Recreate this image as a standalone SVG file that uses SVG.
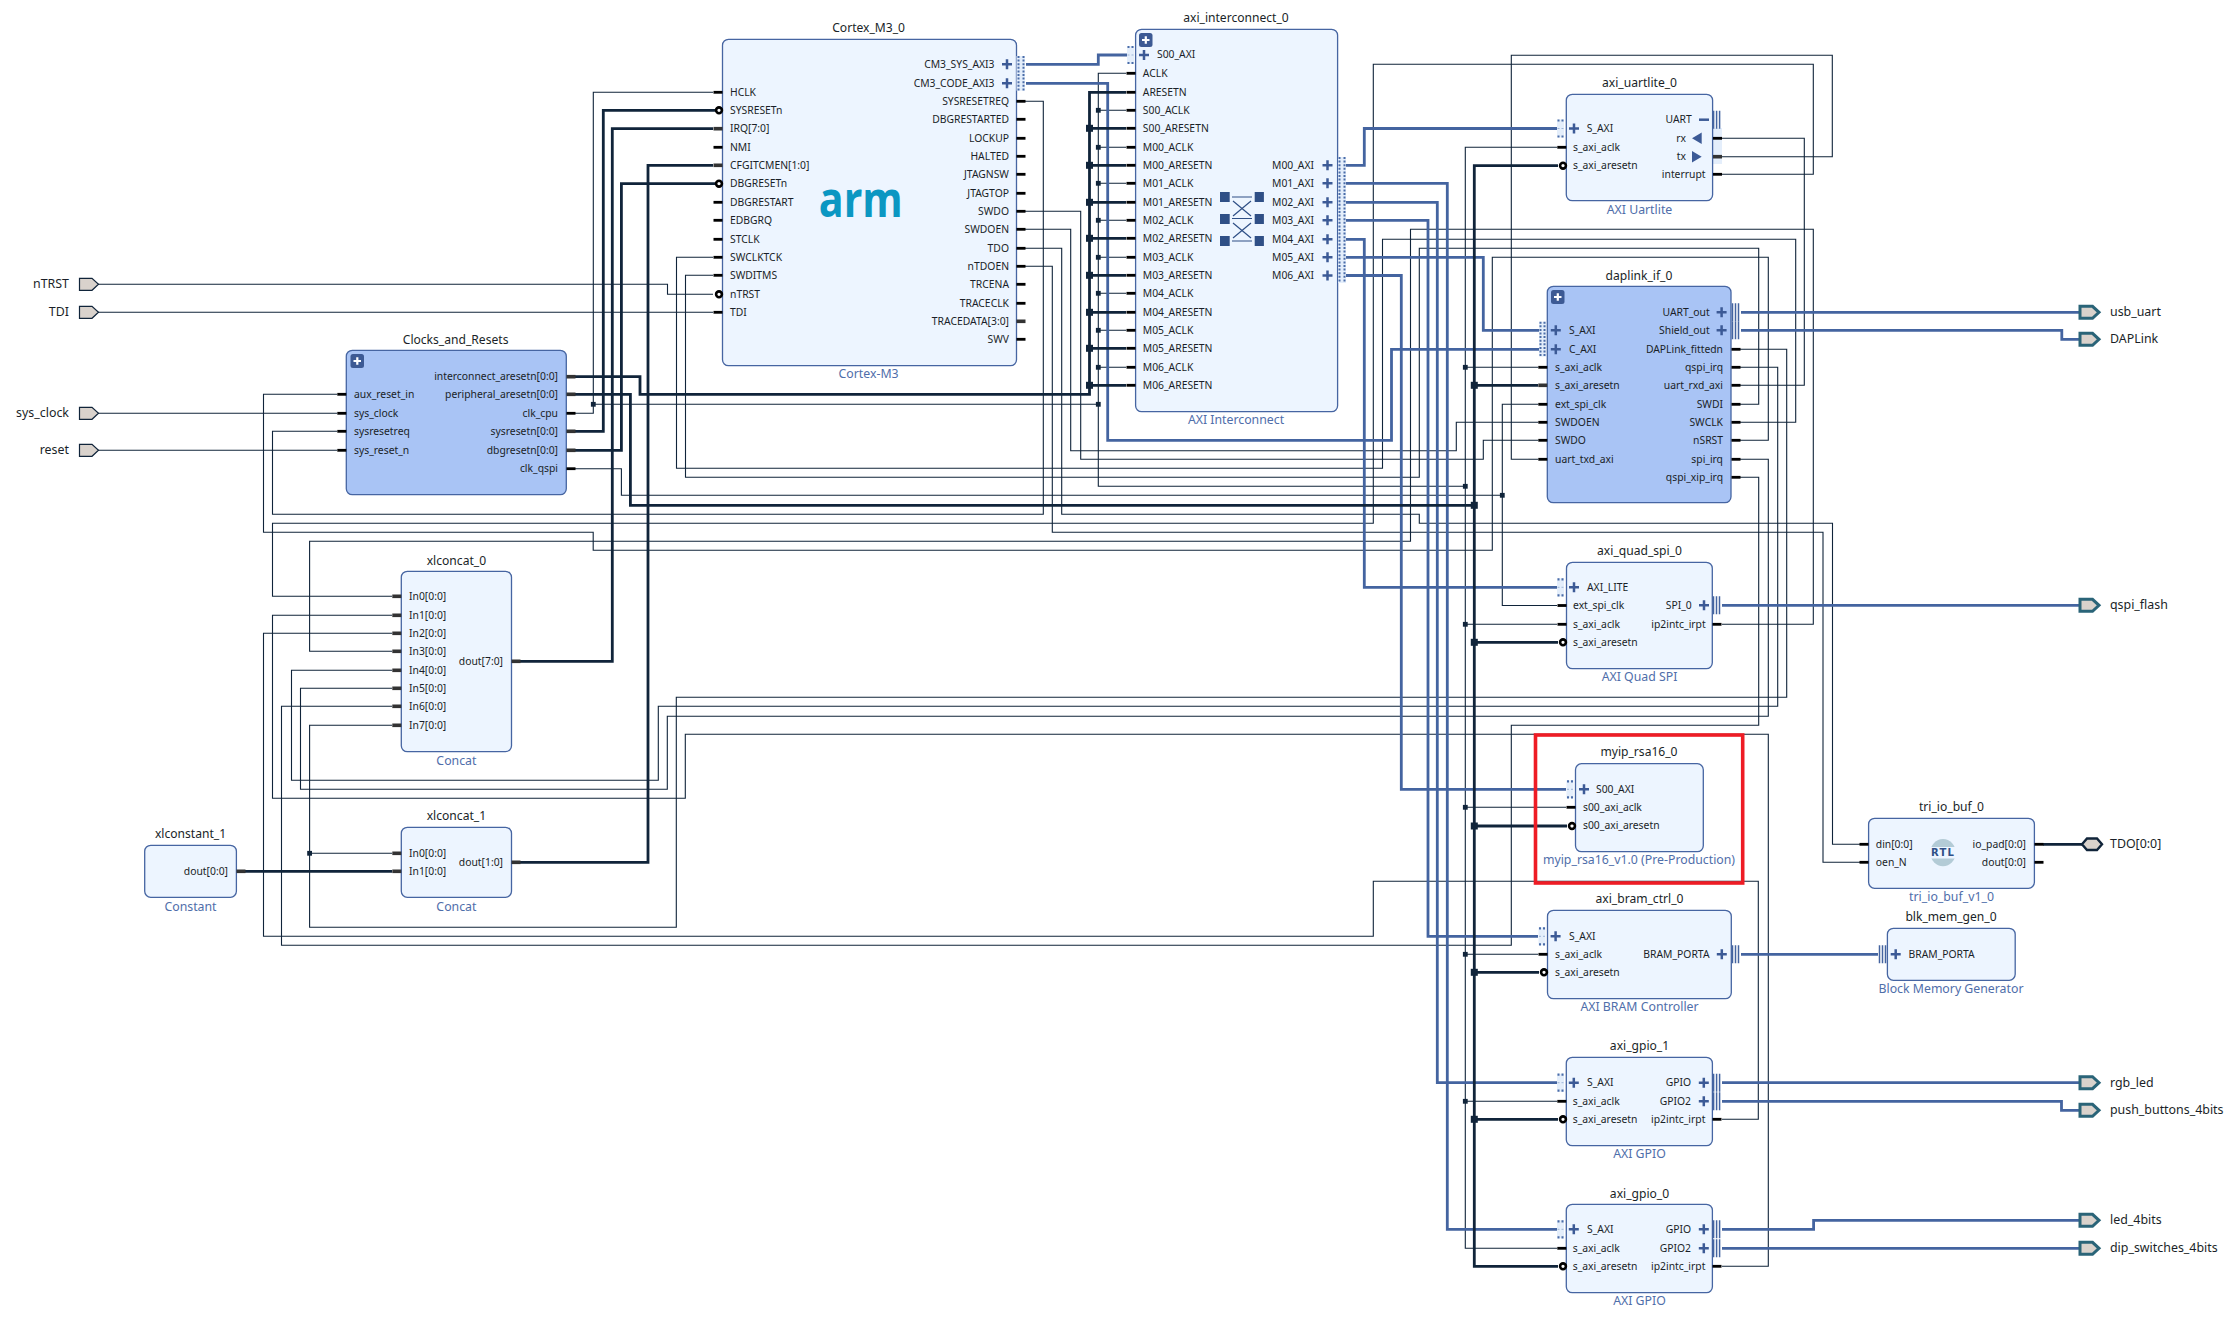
<svg xmlns="http://www.w3.org/2000/svg" width="2236" height="1321" viewBox="0 0 2236 1321">
<style>
text{font-family:"Noto Sans","Open Sans","DejaVu Sans",sans-serif;dominant-baseline:central;fill:#1a1f28;transform:translateY(-0.6px)}
.l{font-size:10.35px}
.r{font-size:10.35px;text-anchor:end}
.n{font-size:12.1px;text-anchor:middle;transform:translateY(-1px)}
.c{font-size:12.3px;text-anchor:middle;fill:#4f6eaa;transform:translateY(-1px)}
.x{font-size:12.4px}
.xr{font-size:12.4px;text-anchor:end}
.bx{fill:#edf5ff;stroke:#4665a2;stroke-width:1.3}
.hb{fill:#a9c4f5;stroke:#4665a2;stroke-width:1.3}
.w,.t,.b{fill:none;stroke-linejoin:miter}
.w{stroke:#10243a;stroke-width:1.1}
.t{stroke:#10243a;stroke-width:2.8}
.b{stroke:#4464a0;stroke-width:2.8}
.pin{fill:#d9d2cc;stroke:#10243a;stroke-width:1.2}
.ipin{fill:#d9d2cc;stroke:#2a6478;stroke-width:3}
.dot{fill:none;stroke:#4a6ca8;stroke-width:2;stroke-dasharray:2 1.6}
.pale{fill:#e4eefb}
</style>
<defs>
<rect id="st" x="-4.5" y="-1.4" width="9" height="2.8" fill="#000"/>
<rect id="bst" x="-4.5" y="-1.8" width="9" height="3.6" fill="#333"/>
<circle id="ring" r="2.9" fill="#fff" stroke="#000" stroke-width="2.6"/>
<path id="pl" d="M-5 0H5M0-5V5" stroke="#3c5a96" stroke-width="2.5" fill="none"/>
<rect id="jn" x="-2.4" y="-2.4" width="4.8" height="4.8" fill="#10243a"/>
<rect id="tj" x="-3.5" y="-3.5" width="7" height="7" fill="#10243a"/>
<path id="bars" d="M1 -9V9M4 -9V9M7 -9V9" stroke="#4464a0" stroke-width="1.5" fill="none"/>
<g id="ds"><rect x="-3.5" y="-9" width="7" height="18" fill="#e4eefb"/><path d="M-3-8h2M1-8h2M-3 8h2M1 8h2" stroke="#4a6ca8" stroke-width="2.2" fill="none"/><path d="M-3 0h2M1 0h2" stroke="#9db5d8" stroke-width="1" fill="none"/></g>
<g id="hi"><rect x="0" y="0" width="13.5" height="14" rx="2.5" fill="#3d5a94"/><path d="M3 7H10.5M6.8 3.2V10.8" stroke="#fff" stroke-width="2.2"/></g>
<path id="xp" class="pin" d="M-9.5-6H3L9.5 0 3 6H-9.5Z"/>
<path id="ip" class="ipin" d="M-9-6H3.5L10 0 3.5 6H-9Z"/>
</defs>

<g id="connectors">
<g id="thin-wires" class="w">
<path d="M98 284.3H667.5V294.3H713"/>
<path d="M98 312.3H713"/>
<path d="M98 413.3H337"/>
<path d="M98 450.3H337"/>
<path d="M575 413.3H593.3V92.3H713"/>
<path d="M593.3 404.3H1098.3"/>
<path d="M1126 73.3H1098.3V486.3H1465.3"/>
<path d="M1098.3 110.3H1126M1098.3 147.3H1126M1098.3 183.3H1126M1098.3 220.3H1126M1098.3 257.3H1126M1098.3 293.3H1126M1098.3 330.3H1126M1098.3 367.3H1126"/>
<path d="M1557 147.3H1465.3V1248.3H1557"/>
<path d="M1465.3 367.3H1538M1465.3 624.3H1557M1465.3 807.3H1566M1465.3 954.3H1538M1465.3 1101.3H1557"/>
<path d="M575 468.7H621.4V495.3H1502.3"/>
<path d="M1538 404.3H1502.3V605.5H1557"/>
<path d="M713 257.3H676.5V468.3H1382.5V239.3H1795.7V422.3H1740"/>
<path d="M713 275.3H685.5V477.3H1419.3V248.3H1758.7V404.3H1740"/>
<path d="M1025 101.3H1043.3V514.3H272.5V431.3H337"/>
<path d="M337 394.3H263.5V532.3H593.2V550.3H1492.3V257.3H1768.3V440.3H1740"/>
<path d="M1025 211.3H1080.7V459.3H1483.3V440.3H1538"/>
<path d="M1025 229.3H1070.7V450.7H1456.3V422.3H1538"/>
<path d="M1025 248.3H1061.7V514.3H1419.3V523.3H1832.5V844.3H1860"/>
<path d="M1025 266.3H1052.3V532.3H1823V862.3H1860"/>
<path d="M392 596.3H272.5V523.3H1373.3V64.3H1813.3V174.3H1722"/>
<path d="M392 615.3H272.5V798.3H685.3V734.3H1768.3V1266.3H1722"/>
<path d="M392 633.3H263.5V936.3H1373.3V881.3H1758.3V1119.3H1722"/>
<path d="M392 651.3H309.6V541.3H1410.5V229.3H1813.3V624.3H1722"/>
<path d="M392 670.3H291.5V780.3H658.3V706.3H1777.7V367.3H1740"/>
<path d="M392 688.3H300.5V789.3H667.3V716.3H1768.3V459.3H1740"/>
<path d="M392 706.3H281.5V945.3H1511.3V725.3H1758.7V477.3H1740"/>
<path d="M392 725.3H309.6V927.3H676.3V697.3H1786.7V349.3H1740"/>
<path d="M309.6 853.3H392"/>
<path d="M1722 156.7H1832.3V55.3H1511.3V459.3H1538"/>
<path d="M1722 138.3H1804.3V385.3H1740"/>
</g>
<g id="axi-wires" class="b">
<path d="M1026 64.3H1098.3V55H1127"/>
<path d="M1026 83.3H1107.7V440.3H1391.5V349.3H1539"/>
<path d="M1346 165.3H1364.3V128.5H1557"/>
<path d="M1346 183.3H1447.3V1229.3H1557"/>
<path d="M1346 202.3H1437.3V1082.7H1557"/>
<path d="M1346 220.3H1428V936.3H1538"/>
<path d="M1346 239.3H1364.3V587.3H1557"/>
<path d="M1346 257.3H1483.3V330.3H1539"/>
<path d="M1346 275.5H1401.3V789.3H1566"/>
<path d="M1741 312.3H2079"/>
<path d="M1741 330.3H2061.8V339.3H2079"/>
<path d="M1722 605.3H2079"/>
<path d="M1741 954.3H1878"/>
<path d="M1722 1082.7H2079"/>
<path d="M1722 1101.3H2061.5V1110.3H2079"/>
<path d="M1722 1229.3H1813.6V1220.3H2079"/>
<path d="M1722 1248.3H2079"/>
</g>
<g id="bus-wires" class="t">
<path d="M575 376.7H640V394.3H1089.5V92.3H1126"/>
<path d="M1089.5 128.3H1126M1089.5 165.3H1126M1089.5 202.3H1126M1089.5 238.3H1126M1089.5 275.3H1126M1089.5 312.3H1126M1089.5 348.3H1126M1089.5 385.3H1126"/>
<path d="M575 394.3H630.4V505.3H1474.3"/>
<path d="M1558 165.7H1474.3V1266.3H1558"/>
<path d="M1474.3 385.3H1538M1474.3 642.3H1558M1474.3 826H1567M1474.3 972.3H1539M1474.3 1119.3H1558"/>
<path d="M575 431.3H603.3V110.3H717"/>
<path d="M575 450.3H621.4V183.7H717"/>
<path d="M713 128.7H612.3V661.3H520"/>
<path d="M713 165.3H648V862.3H520"/>
<path d="M245 871.3H392"/>
<path d="M2043 844.3H2082"/>
</g>
<g id="junctions">
<use href="#jn" x="593.3" y="404.3"/><use href="#jn" x="1098.3" y="404.3"/>
<use href="#jn" x="1098.3" y="110.3"/><use href="#jn" x="1098.3" y="147.3"/><use href="#jn" x="1098.3" y="183.3"/><use href="#jn" x="1098.3" y="220.3"/><use href="#jn" x="1098.3" y="257.3"/><use href="#jn" x="1098.3" y="293.3"/><use href="#jn" x="1098.3" y="330.3"/><use href="#jn" x="1098.3" y="367.3"/>
<use href="#tj" x="1089.5" y="128.3"/><use href="#tj" x="1089.5" y="165.3"/><use href="#tj" x="1089.5" y="202.3"/><use href="#tj" x="1089.5" y="238.3"/><use href="#tj" x="1089.5" y="275.3"/><use href="#tj" x="1089.5" y="312.3"/><use href="#tj" x="1089.5" y="348.3"/><use href="#tj" x="1089.5" y="385.3"/>
<use href="#jn" x="1465.3" y="367.3"/><use href="#jn" x="1465.3" y="486.3"/><use href="#jn" x="1465.3" y="624.3"/><use href="#jn" x="1465.3" y="807.3"/><use href="#jn" x="1465.3" y="954.3"/><use href="#jn" x="1465.3" y="1101.3"/>
<use href="#tj" x="1474.3" y="385.3"/><use href="#tj" x="1474.3" y="505.3"/><use href="#tj" x="1474.3" y="642.3"/><use href="#tj" x="1474.3" y="826"/><use href="#tj" x="1474.3" y="972.3"/><use href="#tj" x="1474.3" y="1119.3"/>
<use href="#jn" x="1502.3" y="495.3"/><use href="#jn" x="309.6" y="853.3"/>
</g>
</g>

<g id="nTRST-port"><use href="#xp" x="89" y="284.3"/><text class="xr" x="69" y="284.3">nTRST</text></g>
<g id="TDI-port"><use href="#xp" x="89" y="312.3"/><text class="xr" x="69" y="312.3">TDI</text></g>
<g id="sys_clock-port"><use href="#xp" x="89" y="413.3"/><text class="xr" x="69" y="413.3">sys_clock</text></g>
<g id="reset-port"><use href="#xp" x="89" y="450.3"/><text class="xr" x="69" y="450.3">reset</text></g>
<g id="usb_uart-port"><use href="#ip" x="2089" y="312.3"/><text class="x" x="2110" y="312.3">usb_uart</text></g>
<g id="DAPLink-port"><use href="#ip" x="2089" y="339.3"/><text class="x" x="2110" y="339.3">DAPLink</text></g>
<g id="qspi_flash-port"><use href="#ip" x="2089" y="605.3"/><text class="x" x="2110" y="605.3">qspi_flash</text></g>
<g id="TDO-port"><path d="M2082 844.3L2087 838.5H2097L2102 844.3L2097 850H2087Z" fill="#d9d2cc" stroke="#10243a" stroke-width="2.4"/><text class="x" x="2110" y="844.3">TDO[0:0]</text></g>
<g id="rgb_led-port"><use href="#ip" x="2089" y="1082.7"/><text class="x" x="2110" y="1082.7">rgb_led</text></g>
<g id="push_buttons_4bits-port"><use href="#ip" x="2089" y="1110.3"/><text class="x" x="2110" y="1110.3">push_buttons_4bits</text></g>
<g id="led_4bits-port"><use href="#ip" x="2089" y="1220.3"/><text class="x" x="2110" y="1220.3">led_4bits</text></g>
<g id="dip_switches_4bits-port"><use href="#ip" x="2089" y="1248.3"/><text class="x" x="2110" y="1248.3">dip_switches_4bits</text></g>

<g id="Cortex_M3_0">
<text class="n" x="868.6" y="28.7">Cortex_M3_0</text>
<rect class="bx" x="722.5" y="39.3" width="294" height="326.4" rx="6"/>
<text class="c" x="868.6" y="374.7">Cortex-M3</text>
<text x="860.8" y="199" text-anchor="middle" style="font-family:'Open Sans',sans-serif;font-size:50px;font-weight:700;fill:#0b97c2" textLength="84" lengthAdjust="spacingAndGlyphs">arm</text>
<use href="#st" x="718" y="92.3"/><use href="#ring" x="719" y="110.3"/><use href="#bst" x="718" y="128.7"/><use href="#st" x="718" y="147.3"/><use href="#bst" x="718" y="165.3"/><use href="#ring" x="719" y="183.7"/><use href="#st" x="718" y="202.3"/><use href="#st" x="718" y="220.3"/><use href="#st" x="718" y="239.3"/><use href="#st" x="718" y="257.3"/><use href="#st" x="718" y="275.3"/><use href="#ring" x="719" y="294.3"/><use href="#st" x="718" y="312.3"/>
<text class="l" x="730" y="92.3">HCLK</text><text class="l" x="730" y="110.3">SYSRESETn</text><text class="l" x="730" y="128.7">IRQ[7:0]</text><text class="l" x="730" y="147.3">NMI</text><text class="l" x="730" y="165.3">CFGITCMEN[1:0]</text><text class="l" x="730" y="183.7">DBGRESETn</text><text class="l" x="730" y="202.3">DBGRESTART</text><text class="l" x="730" y="220.3">EDBGRQ</text><text class="l" x="730" y="239.3">STCLK</text><text class="l" x="730" y="257.3">SWCLKTCK</text><text class="l" x="730" y="275.3">SWDITMS</text><text class="l" x="730" y="294.3">nTRST</text><text class="l" x="730" y="312.3">TDI</text>
<rect class="pale" x="1016.5" y="56" width="8.5" height="34.7"/><path class="dot" d="M1018.5 56V90.7M1023.5 56V90.7"/>
<use href="#pl" x="1007" y="64.3"/><use href="#pl" x="1007" y="83.3"/>
<text class="r" x="994.5" y="64.3">CM3_SYS_AXI3</text><text class="r" x="994.5" y="83.3">CM3_CODE_AXI3</text>
<text class="r" x="1009" y="101.3">SYSRESETREQ</text><text class="r" x="1009" y="119.3">DBGRESTARTED</text><text class="r" x="1009" y="138.3">LOCKUP</text><text class="r" x="1009" y="156.3">HALTED</text><text class="r" x="1009" y="174.3">JTAGNSW</text><text class="r" x="1009" y="193.3">JTAGTOP</text><text class="r" x="1009" y="211.3">SWDO</text><text class="r" x="1009" y="229.3">SWDOEN</text><text class="r" x="1009" y="248.3">TDO</text><text class="r" x="1009" y="266.3">nTDOEN</text><text class="r" x="1009" y="284.3">TRCENA</text><text class="r" x="1009" y="303.3">TRACECLK</text><text class="r" x="1009" y="321.3">TRACEDATA[3:0]</text><text class="r" x="1009" y="339.3">SWV</text>
<use href="#st" x="1021" y="101.3"/><use href="#st" x="1021" y="119.3"/><use href="#st" x="1021" y="138.3"/><use href="#st" x="1021" y="156.3"/><use href="#st" x="1021" y="174.3"/><use href="#st" x="1021" y="193.3"/><use href="#st" x="1021" y="211.3"/><use href="#st" x="1021" y="229.3"/><use href="#st" x="1021" y="248.3"/><use href="#st" x="1021" y="266.3"/><use href="#st" x="1021" y="284.3"/><use href="#st" x="1021" y="303.3"/><use href="#bst" x="1021" y="321.3"/><use href="#st" x="1021" y="339.3"/>
</g>

<g id="axi_interconnect_0">
<text class="n" x="1236" y="18.7">axi_interconnect_0</text>
<rect class="bx" x="1135.6" y="29.3" width="202" height="382.4" rx="6"/>
<text class="c" x="1236" y="420.7">AXI Interconnect</text>
<use href="#hi" x="1139" y="33"/>
<use href="#ds" x="1130.5" y="55"/><use href="#pl" x="1144" y="55"/><text class="l" x="1157" y="55">S00_AXI</text>
<use href="#st" x="1131" y="73.3"/><use href="#st" x="1131" y="92.3"/><use href="#st" x="1131" y="110.3"/><use href="#st" x="1131" y="128.3"/><use href="#st" x="1131" y="147.3"/><use href="#st" x="1131" y="165.3"/><use href="#st" x="1131" y="183.3"/><use href="#st" x="1131" y="202.3"/><use href="#st" x="1131" y="220.3"/><use href="#st" x="1131" y="238.3"/><use href="#st" x="1131" y="257.3"/><use href="#st" x="1131" y="275.3"/><use href="#st" x="1131" y="293.3"/><use href="#st" x="1131" y="312.3"/><use href="#st" x="1131" y="330.3"/><use href="#st" x="1131" y="348.3"/><use href="#st" x="1131" y="367.3"/><use href="#st" x="1131" y="385.3"/>
<text class="l" x="1142.8" y="73.3">ACLK</text><text class="l" x="1142.8" y="92.3">ARESETN</text><text class="l" x="1142.8" y="110.3">S00_ACLK</text><text class="l" x="1142.8" y="128.3">S00_ARESETN</text><text class="l" x="1142.8" y="147.3">M00_ACLK</text><text class="l" x="1142.8" y="165.3">M00_ARESETN</text><text class="l" x="1142.8" y="183.3">M01_ACLK</text><text class="l" x="1142.8" y="202.3">M01_ARESETN</text><text class="l" x="1142.8" y="220.3">M02_ACLK</text><text class="l" x="1142.8" y="238.3">M02_ARESETN</text><text class="l" x="1142.8" y="257.3">M03_ACLK</text><text class="l" x="1142.8" y="275.3">M03_ARESETN</text><text class="l" x="1142.8" y="293.3">M04_ACLK</text><text class="l" x="1142.8" y="312.3">M04_ARESETN</text><text class="l" x="1142.8" y="330.3">M05_ACLK</text><text class="l" x="1142.8" y="348.3">M05_ARESETN</text><text class="l" x="1142.8" y="367.3">M06_ACLK</text><text class="l" x="1142.8" y="385.3">M06_ARESETN</text>
<text class="r" x="1314" y="165.3">M00_AXI</text><text class="r" x="1314" y="183.3">M01_AXI</text><text class="r" x="1314" y="202.3">M02_AXI</text><text class="r" x="1314" y="220.3">M03_AXI</text><text class="r" x="1314" y="239.3">M04_AXI</text><text class="r" x="1314" y="257.3">M05_AXI</text><text class="r" x="1314" y="275.5">M06_AXI</text>
<use href="#pl" x="1327.5" y="165.3"/><use href="#pl" x="1327.5" y="183.3"/><use href="#pl" x="1327.5" y="202.3"/><use href="#pl" x="1327.5" y="220.3"/><use href="#pl" x="1327.5" y="239.3"/><use href="#pl" x="1327.5" y="257.3"/><use href="#pl" x="1327.5" y="275.5"/>
<rect class="pale" x="1338" y="157" width="8" height="126"/><path class="dot" d="M1339.5 157V283M1344.5 157V283"/>
<path d="M1220 192h9.7v10h-9.7zM1254.7 192h9.2v10h-9.2zM1220 214h9.7v10h-9.7zM1254.7 214h9.2v10h-9.2zM1220 236h9.7v10h-9.7zM1254.7 236h9.2v10h-9.2z" fill="#2f4f86"/>
<path d="M1232 197H1252M1232 218.5H1252M1232 241H1252M1233 201L1251 216M1251 201L1233 216M1233 223L1251 238M1251 223L1233 238" stroke="#2f4f86" stroke-width="1.2" fill="none"/>
</g>

<g id="Clocks_and_Resets">
<text class="n" x="455.6" y="340.7">Clocks_and_Resets</text>
<rect class="hb" x="346.3" y="350.3" width="220" height="144.4" rx="6"/>
<use href="#hi" x="350.5" y="354"/>
<use href="#st" x="341.8" y="394.3"/><use href="#st" x="341.8" y="413.3"/><use href="#st" x="341.8" y="431.3"/><use href="#st" x="341.8" y="450.3"/>
<text class="l" x="354" y="394.3">aux_reset_in</text><text class="l" x="354" y="413.3">sys_clock</text><text class="l" x="354" y="431.3">sysresetreq</text><text class="l" x="354" y="450.3">sys_reset_n</text>
<text class="r" x="558" y="376.7">interconnect_aresetn[0:0]</text><text class="r" x="558" y="394.3">peripheral_aresetn[0:0]</text><text class="r" x="558" y="413.3">clk_cpu</text><text class="r" x="558" y="431.3">sysresetn[0:0]</text><text class="r" x="558" y="450.3">dbgresetn[0:0]</text><text class="r" x="558" y="468.7">clk_qspi</text>
<use href="#bst" x="571" y="376.7"/><use href="#bst" x="571" y="394.3"/><use href="#st" x="571" y="413.3"/><use href="#bst" x="571" y="431.3"/><use href="#bst" x="571" y="450.3"/><use href="#st" x="571" y="468.7"/>
</g>

<g id="xlconcat_0">
<text class="n" x="456.4" y="561">xlconcat_0</text>
<rect class="bx" x="401.3" y="571.3" width="110.2" height="180.4" rx="6"/>
<text class="c" x="456.4" y="761">Concat</text>
<use href="#bst" x="396.8" y="596.3"/><use href="#bst" x="396.8" y="615.3"/><use href="#bst" x="396.8" y="633.3"/><use href="#bst" x="396.8" y="651.3"/><use href="#bst" x="396.8" y="670.3"/><use href="#bst" x="396.8" y="688.3"/><use href="#bst" x="396.8" y="706.3"/><use href="#bst" x="396.8" y="725.3"/>
<text class="l" x="409" y="596.3">In0[0:0]</text><text class="l" x="409" y="615.3">In1[0:0]</text><text class="l" x="409" y="633.3">In2[0:0]</text><text class="l" x="409" y="651.3">In3[0:0]</text><text class="l" x="409" y="670.3">In4[0:0]</text><text class="l" x="409" y="688.3">In5[0:0]</text><text class="l" x="409" y="706.3">In6[0:0]</text><text class="l" x="409" y="725.3">In7[0:0]</text>
<text class="r" x="503" y="661.3">dout[7:0]</text><use href="#bst" x="516" y="661.3"/>
</g>

<g id="xlconcat_1">
<text class="n" x="456.4" y="816.7">xlconcat_1</text>
<rect class="bx" x="401.3" y="827.3" width="110.2" height="70" rx="6"/>
<text class="c" x="456.4" y="907">Concat</text>
<use href="#bst" x="396.8" y="853.3"/><use href="#bst" x="396.8" y="871.3"/>
<text class="l" x="409" y="853.3">In0[0:0]</text><text class="l" x="409" y="871.3">In1[0:0]</text>
<text class="r" x="503" y="862.3">dout[1:0]</text><use href="#bst" x="516" y="862.3"/>
</g>

<g id="xlconstant_1">
<text class="n" x="190.5" y="834.7">xlconstant_1</text>
<rect class="bx" x="144.7" y="845.3" width="91.7" height="52" rx="6"/>
<text class="c" x="190.5" y="907">Constant</text>
<text class="r" x="228" y="871.3">dout[0:0]</text><use href="#bst" x="241" y="871.3"/>
</g>

<g id="axi_uartlite_0">
<text class="n" x="1639.5" y="83.3">axi_uartlite_0</text>
<rect class="pale" x="1712" y="128" width="10" height="36"/>
<rect class="bx" x="1566.3" y="94.3" width="146.3" height="106.4" rx="6"/>
<text class="c" x="1639.5" y="210">AXI Uartlite</text>
<use href="#ds" x="1560.5" y="128.5"/><use href="#pl" x="1574" y="128.5"/><text class="l" x="1586.7" y="128.5">S_AXI</text>
<use href="#st" x="1561.8" y="147.3"/><use href="#ring" x="1563" y="165.7"/>
<text class="l" x="1573" y="147.3">s_axi_aclk</text><text class="l" x="1573" y="165.7">s_axi_aresetn</text>
<text class="r" x="1691.7" y="119.7">UART</text><path d="M1699 119.7H1709" stroke="#3c5a96" stroke-width="2.5"/><use href="#bars" x="1712.6" y="119.7"/>
<text class="r" x="1686" y="138.3">rx</text><path d="M1701.7 132.5V144L1692 138.3Z" fill="#3c5a96"/><use href="#st" x="1717.5" y="138.3"/>
<text class="r" x="1686" y="156.7">tx</text><path d="M1692 151V162.5L1701.7 156.7Z" fill="#3c5a96"/><use href="#bst" x="1717.5" y="156.7"/>
<text class="r" x="1705.5" y="174.3">interrupt</text><use href="#st" x="1717.5" y="174.3"/>
</g>

<g id="daplink_if_0">
<text class="n" x="1639" y="276">daplink_if_0</text>
<rect class="hb" x="1547.3" y="286.3" width="183.7" height="216.4" rx="6"/>
<use href="#hi" x="1551" y="290"/>
<rect class="pale" x="1539" y="321.7" width="7" height="35"/><path class="dot" d="M1540.5 321.7V356.7M1544.5 321.7V356.7"/>
<use href="#pl" x="1555.8" y="330.3"/><use href="#pl" x="1555.8" y="349.3"/>
<text class="l" x="1569" y="330.3">S_AXI</text><text class="l" x="1569" y="349.3">C_AXI</text>
<use href="#st" x="1542.8" y="367.3"/><use href="#bst" x="1542.8" y="385.3"/><use href="#st" x="1542.8" y="404.3"/><use href="#st" x="1542.8" y="422.3"/><use href="#st" x="1542.8" y="440.3"/><use href="#st" x="1542.8" y="459.3"/>
<text class="l" x="1555" y="367.3">s_axi_aclk</text><text class="l" x="1555" y="385.3">s_axi_aresetn</text><text class="l" x="1555" y="404.3">ext_spi_clk</text><text class="l" x="1555" y="422.3">SWDOEN</text><text class="l" x="1555" y="440.3">SWDO</text><text class="l" x="1555" y="459.3">uart_txd_axi</text>
<text class="r" x="1709.7" y="312.3">UART_out</text><text class="r" x="1709.7" y="330.3">Shield_out</text>
<use href="#pl" x="1721.6" y="312.3"/><use href="#pl" x="1721.6" y="330.3"/><use href="#bars" x="1731.5" y="312.3"/><use href="#bars" x="1731.5" y="330.3"/>
<text class="r" x="1723" y="349.3">DAPLink_fittedn</text><text class="r" x="1723" y="367.3">qspi_irq</text><text class="r" x="1723" y="385.3">uart_rxd_axi</text><text class="r" x="1723" y="404.3">SWDI</text><text class="r" x="1723" y="422.3">SWCLK</text><text class="r" x="1723" y="440.3">nSRST</text><text class="r" x="1723" y="459.3">spi_irq</text><text class="r" x="1723" y="477.3">qspi_xip_irq</text>
<use href="#st" x="1736" y="349.3"/><use href="#st" x="1736" y="367.3"/><use href="#st" x="1736" y="385.3"/><use href="#st" x="1736" y="404.3"/><use href="#st" x="1736" y="422.3"/><use href="#st" x="1736" y="440.3"/><use href="#st" x="1736" y="459.3"/><use href="#st" x="1736" y="477.3"/>
</g>

<g id="axi_quad_spi_0">
<text class="n" x="1639.5" y="551.7">axi_quad_spi_0</text>
<rect class="bx" x="1566.5" y="562.3" width="145.8" height="106.4" rx="6"/>
<text class="c" x="1639.5" y="677.7">AXI Quad SPI</text>
<use href="#ds" x="1560.5" y="587.3"/><use href="#pl" x="1574" y="587.3"/><text class="l" x="1587" y="587.3">AXI_LITE</text>
<use href="#st" x="1562" y="605.5"/><use href="#st" x="1562" y="624.3"/><use href="#ring" x="1563" y="642.3"/>
<text class="l" x="1573" y="605.5">ext_spi_clk</text><text class="l" x="1573" y="624.3">s_axi_aclk</text><text class="l" x="1573" y="642.3">s_axi_aresetn</text>
<text class="r" x="1691.7" y="605.3">SPI_0</text><use href="#pl" x="1704" y="605.3"/><use href="#bars" x="1712.5" y="605.3"/>
<text class="r" x="1705.7" y="624.3">ip2intc_irpt</text><use href="#st" x="1717" y="624.3"/>
</g>

<g id="myip_rsa16_0">
<text class="n" x="1639" y="752.7">myip_rsa16_0</text>
<rect class="bx" x="1575.5" y="763.7" width="127.8" height="88" rx="6"/>
<text class="c" x="1639" y="860.7">myip_rsa16_v1.0 (Pre-Production)</text>
<use href="#ds" x="1570" y="789.3"/><use href="#pl" x="1584" y="789.3"/><text class="l" x="1596" y="789.3">S00_AXI</text>
<use href="#st" x="1571" y="807.3"/><use href="#ring" x="1572" y="826"/>
<text class="l" x="1583" y="807.3">s00_axi_aclk</text><text class="l" x="1583" y="826">s00_axi_aresetn</text>
</g>

<g id="axi_bram_ctrl_0">
<text class="n" x="1639.5" y="899.7">axi_bram_ctrl_0</text>
<rect class="bx" x="1547.5" y="910.3" width="183.8" height="88.4" rx="6"/>
<text class="c" x="1639.5" y="1007.7">AXI BRAM Controller</text>
<use href="#ds" x="1542" y="936.3"/><use href="#pl" x="1555.6" y="936.3"/><text class="l" x="1569" y="936.3">S_AXI</text>
<use href="#st" x="1543" y="954.3"/><use href="#ring" x="1544" y="972.3"/>
<text class="l" x="1555" y="954.3">s_axi_aclk</text><text class="l" x="1555" y="972.3">s_axi_aresetn</text>
<text class="r" x="1709.5" y="954.3">BRAM_PORTA</text><use href="#pl" x="1721.8" y="954.3"/><use href="#bars" x="1731.5" y="954.3"/>
</g>

<g id="blk_mem_gen_0">
<text class="n" x="1951" y="917.7">blk_mem_gen_0</text>
<rect class="bx" x="1887.4" y="928.3" width="127.8" height="52" rx="6"/>
<text class="c" x="1951" y="989.7">Block Memory Generator</text>
<use href="#bars" x="1878.5" y="954.3"/><use href="#pl" x="1895.7" y="954.3"/><text class="l" x="1908.5" y="954.3">BRAM_PORTA</text>
</g>

<g id="tri_io_buf_0">
<text class="n" x="1951.5" y="807.3">tri_io_buf_0</text>
<rect class="bx" x="1868.6" y="818.3" width="165.8" height="70" rx="6"/>
<text class="c" x="1951.5" y="897.3">tri_io_buf_v1_0</text>
<use href="#st" x="1864" y="844.3"/><use href="#st" x="1864" y="862.3"/>
<text class="l" x="1875.8" y="844.3">din[0:0]</text><text class="l" x="1875.8" y="862.3">oen_N</text>
<text class="r" x="2026" y="844.3">io_pad[0:0]</text><text class="r" x="2026" y="862.3">dout[0:0]</text>
<use href="#st" x="2039" y="844.3"/><use href="#st" x="2039" y="862.3"/>
<ellipse cx="1943" cy="852.7" rx="12.7" ry="13.6" fill="#b3cbd6"/>
<rect x="1930" y="847" width="26" height="11.5" fill="#edf5ff"/>
<text x="1943" y="852.7" text-anchor="middle" style="font-family:'DejaVu Sans',sans-serif;font-size:10px;font-weight:700;fill:#2f4f86;letter-spacing:1.2px">RTL</text>
</g>

<g id="axi_gpio_1">
<text class="n" x="1639.5" y="1046.7">axi_gpio_1</text>
<rect class="bx" x="1566.3" y="1057.3" width="146.1" height="88.4" rx="6"/>
<text class="c" x="1639.5" y="1154.7">AXI GPIO</text>
<use href="#ds" x="1560.5" y="1082.7"/><use href="#pl" x="1573.8" y="1082.7"/><text class="l" x="1587" y="1082.7">S_AXI</text>
<use href="#st" x="1561.8" y="1101.3"/><use href="#ring" x="1563" y="1119.3"/>
<text class="l" x="1572.7" y="1101.3">s_axi_aclk</text><text class="l" x="1572.7" y="1119.3">s_axi_aresetn</text>
<text class="r" x="1691" y="1082.7">GPIO</text><text class="r" x="1691" y="1101.3">GPIO2</text><use href="#pl" x="1703.8" y="1082.7"/><use href="#pl" x="1703.8" y="1101.3"/><use href="#bars" x="1712.6" y="1082.7"/><use href="#bars" x="1712.6" y="1101.3"/>
<text class="r" x="1705.4" y="1119.3">ip2intc_irpt</text><use href="#st" x="1717" y="1119.3"/>
</g>

<g id="axi_gpio_0">
<text class="n" x="1639.5" y="1194">axi_gpio_0</text>
<rect class="bx" x="1566.3" y="1204.3" width="146.1" height="88.4" rx="6"/>
<text class="c" x="1639.5" y="1301.7">AXI GPIO</text>
<use href="#ds" x="1560.5" y="1229.3"/><use href="#pl" x="1573.8" y="1229.3"/><text class="l" x="1587" y="1229.3">S_AXI</text>
<use href="#st" x="1561.8" y="1248.3"/><use href="#ring" x="1563" y="1266.3"/>
<text class="l" x="1572.7" y="1248.3">s_axi_aclk</text><text class="l" x="1572.7" y="1266.3">s_axi_aresetn</text>
<text class="r" x="1691" y="1229.3">GPIO</text><text class="r" x="1691" y="1248.3">GPIO2</text><use href="#pl" x="1703.8" y="1229.3"/><use href="#pl" x="1703.8" y="1248.3"/><use href="#bars" x="1712.6" y="1229.3"/><use href="#bars" x="1712.6" y="1248.3"/>
<text class="r" x="1705.4" y="1266.3">ip2intc_irpt</text><use href="#st" x="1717" y="1266.3"/>
</g>

<rect id="highlight" x="1535.5" y="735" width="207.2" height="148" fill="none" stroke="#ee1c25" stroke-width="3.6"/>
</svg>
